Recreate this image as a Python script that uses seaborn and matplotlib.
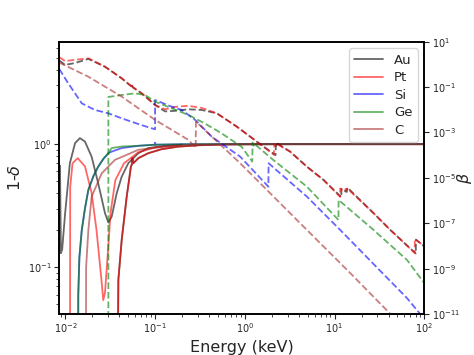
import numpy as np
import matplotlib
matplotlib.use("Agg")
import matplotlib.pyplot as plt
from matplotlib.lines import Line2D
import seaborn as sns

nan = np.nan
LOW_L = 1e-3    # below the left axis -> line runs off the bottom
LOW_R = 1e-13   # below the right axis

# ---------------- 1 - delta (solid, left axis), energy in keV ----------------
au_n_E = [0.0087, 0.0089, 0.0092, 0.0099, 0.0112, 0.0128, 0.0145, 0.0165, 0.0196,
          0.0232, 0.0276, 0.0301, 0.0328, 0.0373, 0.0424, 0.0502, 0.065, 0.084, 0.129, 0.2,
          nan,
          0.0373, 0.0389, 0.0424, 0.0482, 0.0537, 0.0552, 0.0557, 0.0571, 0.065, 0.084,
          0.118, 0.181, 0.303, 0.6, 2.0, 10.0, 100.0]
au_n = [0.67, 0.13, 0.14, 0.27, 0.70, 1.02, 1.12, 1.05, 0.79,
        0.48, 0.275, 0.231, 0.258, 0.40, 0.545, 0.70, 0.845, 0.93, 0.97, 0.99,
        nan,
        LOW_L, 0.079, 0.167, 0.375, 0.657, 0.69, 0.77, 0.70, 0.77, 0.845,
        0.91, 0.955, 0.98, 0.995, 1.0, 1.0, 1.0]

pt_n_E = [0.0112, 0.0113, 0.0120, 0.0137, 0.0165, 0.0196, 0.0222, 0.0252, 0.0264,
          0.0276, 0.0295, 0.0318, 0.0360, 0.045, 0.065, 0.10, 0.2,
          nan,
          0.0373, 0.0389, 0.0424, 0.0482, 0.0537, 0.0552, 0.0557, 0.0571, 0.065, 0.084,
          0.118, 0.181, 0.303, 0.6, 2.0, 10.0, 100.0]
pt_n = [LOW_L, 0.45, 0.70, 0.77, 0.66, 0.40, 0.20, 0.079, 0.054,
        0.062, 0.122, 0.275, 0.51, 0.70, 0.86, 0.94, 0.99,
        nan,
        LOW_L, 0.079, 0.167, 0.375, 0.657, 0.69, 0.77, 0.70, 0.77, 0.845,
        0.91, 0.955, 0.98, 0.995, 1.0, 1.0, 1.0]

si_n_E = [0.0137, 0.0139, 0.0143, 0.0152, 0.0165, 0.0180, 0.0205, 0.0232, 0.0265,
          0.0301, 0.0328, 0.0424, 0.065, 0.0995, 0.1, 0.101, 0.2, 1.0, 100.0]
si_n = [LOW_L, 0.06, 0.12, 0.20, 0.30, 0.425, 0.55, 0.657, 0.76,
        0.845, 0.87, 0.93, 0.97, 0.99, 1.03, 0.99, 1.0, 1.0, 1.0]

ge_n_E = [0.0137, 0.0139, 0.0143, 0.0152, 0.0165, 0.0180, 0.0205, 0.0232, 0.0265,
          0.0301, 0.0328, 0.0424, 0.065, 0.1, 0.3, 1.2, 1.22, 1.25, 2.0, 100.0]
ge_n = [LOW_L, 0.06, 0.12, 0.20, 0.30, 0.425, 0.55, 0.657, 0.76,
        0.845, 0.93, 0.957, 0.97, 0.99, 1.0, 1.0, 1.03, 1.0, 1.0, 1.0]

c_n_E = [0.0168, 0.0170, 0.0180, 0.0196, 0.0254, 0.0356, 0.065, 0.129, 0.28, 1.0, 100.0]
c_n = [LOW_L, 0.10, 0.20, 0.375, 0.58, 0.745, 0.90, 0.955, 0.99, 1.0, 1.0]

# ---------------- beta (dashed, right axis) ----------------
au_b_E = [0.00853, 0.0099, 0.0128, 0.018, 0.0276, 0.0424, 0.054, 0.0548, 0.056, 0.0708,
          0.0998, 0.129, 0.167, 0.235, 0.331, 0.487, 0.815, 1.61, 2.20, 2.215, 2.28, 2.295,
          2.6, 3.2, 4.92, 7.54, 11.9, 11.93, 13.7, 13.73, 14.35, 14.36, 27.2, 41.8, 80.6,
          80.8, 100.0]
au_b = [1.5, 0.95, 1.15, 1.75, 0.79, 0.244, 0.11, 0.14, 0.10, 0.053,
        0.0163, 0.0085, 0.0090, 0.0105, 0.0098, 0.0070, 0.0018, 2.4e-4, 1.0e-4, 2.8e-4, 2.5e-4, 3.3e-4,
        2.4e-4, 1.43e-4, 3.1e-5, 8.1e-6, 1.4e-6, 3.3e-6, 2.4e-6, 3.2e-6, 2.9e-6, 3.3e-6, 2.8e-7, 5.1e-8, 4.6e-9,
        1.9e-8, 0.95e-8]

pt_b_E = [0.00853, 0.0099, 0.0128, 0.018, 0.0276, 0.0424, 0.054, 0.0548, 0.056, 0.0708,
          0.0998, 0.129, 0.167, 0.235, 0.331, 0.487, 0.815, 1.61, 2.11, 2.125, 2.19, 2.205,
          2.6, 3.2, 4.92, 7.54, 11.55, 11.57, 13.2, 13.28, 13.87, 13.88, 27.2, 41.8, 78.3,
          78.5, 100.0]
pt_b = [2.1, 1.4, 1.6, 1.86, 0.79, 0.244, 0.11, 0.14, 0.10, 0.053,
        0.0163, 0.0105, 0.0135, 0.0150, 0.0120, 0.0070, 0.0018, 2.4e-4, 1.05e-4, 2.9e-4, 2.6e-4, 3.4e-4,
        2.3e-4, 1.43e-4, 3.1e-5, 8.1e-6, 1.45e-6, 3.4e-6, 2.5e-6, 3.3e-6, 3.0e-6, 3.4e-6, 2.8e-7, 5.1e-8, 4.9e-9,
        2.0e-8, 1.0e-8]

si_b_E = [0.00853, 0.01074, 0.0152, 0.0213, 0.0301, 0.0424, 0.0708, 0.0998, 0.0999,
          0.153, 0.198, 0.279, 0.428, 0.887, 1.83, 1.84, 4.92, 11.6, 27.2, 64.3, 90.0]
si_b = [0.63, 0.147, 0.0193, 0.0098, 0.0070, 0.0042, 0.0021, 0.00138, 0.027,
        0.0137, 0.0098, 0.0036, 6.5e-4, 8.6e-5, 4.1e-6, 4.4e-5, 1.49e-6, 5e-8, 1.6e-9, 5e-11, 1e-11]

ge_b_E = [0.0301, 0.0301, 0.0424, 0.0596, 0.0771, 0.0998, 0.153, 0.235, 0.358, 0.55,
          0.925, 1.21, 1.22, 1.25, 1.26, 2.08, 4.92, 11.05, 11.1, 27.2, 64.3, 100.0]
ge_b = [LOW_R, 0.0366, 0.045, 0.053, 0.045, 0.0228, 0.0117, 0.0059, 0.0025, 9.2e-4,
        2.3e-4, 5.2e-5, 3.3e-4, 2.6e-4, 3.3e-4, 6.1e-5, 4.1e-6, 1.4e-7, 1.06e-6, 5.1e-8, 2.4e-9, 2.3e-10]

c_b_E = [0.00853, 0.018, 0.0424, 0.0998, 0.235, 0.283, 0.285, 0.887, 4.14, 15.0, 42.0]
c_b = [1.2, 0.287, 0.038, 0.0036, 4.7e-4, 2.1e-4, 3.0e-3, 4.4e-5, 1e-7, 6.3e-10, 1e-11]

names = ["Au", "Pt", "Si", "Ge", "C"]
colors = ["k", "r", "b", "g", "brown"]
solid = [(au_n_E, au_n), (pt_n_E, pt_n), (si_n_E, si_n), (ge_n_E, ge_n), (c_n_E, c_n)]
dashed = [(au_b_E, au_b), (pt_b_E, pt_b), (si_b_E, si_b), (ge_b_E, ge_b), (c_b_E, c_b)]

ALPHA = 0.6
LW = 1.3


def draw(ax, E, v, color, ls):
    E = np.asarray(E, float)
    v = np.asarray(v, float)
    cuts = np.where(np.isnan(v))[0]
    for seg in np.split(np.arange(len(v)), cuts):
        seg = seg[~np.isnan(v[seg])]
        if len(seg) > 1:
            sns.lineplot(x=E[seg], y=v[seg], ax=ax, color=color, linestyle=ls,
                         lw=LW, alpha=ALPHA, sort=False, estimator=None, legend=False)


sns.set_style("ticks")
fig = plt.figure(figsize=(4.74, 3.55), dpi=100)
ax = fig.add_axes([0.125, 0.1155, 0.77, 0.767])
ax2 = ax.twinx()
for a in (ax, ax2):
    a.set_xscale("log")
    a.set_yscale("log")

for (E, v), c in zip(solid, colors):
    draw(ax, E, v, c, "-")
for (E, v), c in zip(dashed, colors):
    draw(ax2, E, v, c, "--")

ax.set_xlim(0.00853, 100)
ax.set_ylim(0.0417, 6.8)
ax2.set_ylim(1e-11, 10)
ax2.set_xlabel("")
ax2.xaxis.set_visible(False)

ax.set_xlabel("Energy (keV)", fontsize=11.5)
ax.set_ylabel("1-$\\delta$", fontsize=11.5)
ax2.set_ylabel("$\\beta$", fontsize=11.5)
ax.xaxis.set_label_coords(0.5, -0.095)
ax.yaxis.set_label_coords(-0.10, 0.5)
ax2.yaxis.set_label_coords(1.085, 0.5)
for a in (ax, ax2):
    a.tick_params(which="major", labelsize=7, length=3.5, width=0.8, pad=2)
    a.tick_params(which="minor", length=2, width=0.6)
    for s in a.spines.values():
        s.set_linewidth(1.2)
        s.set_color("black")

handles = [Line2D([], [], color=c, lw=LW, alpha=ALPHA) for c in colors]
ax2.legend(handles, names, loc="upper right", fontsize=9.5, labelspacing=0.35,
           handlelength=2.2)

fig.savefig("out.png", dpi=100)
